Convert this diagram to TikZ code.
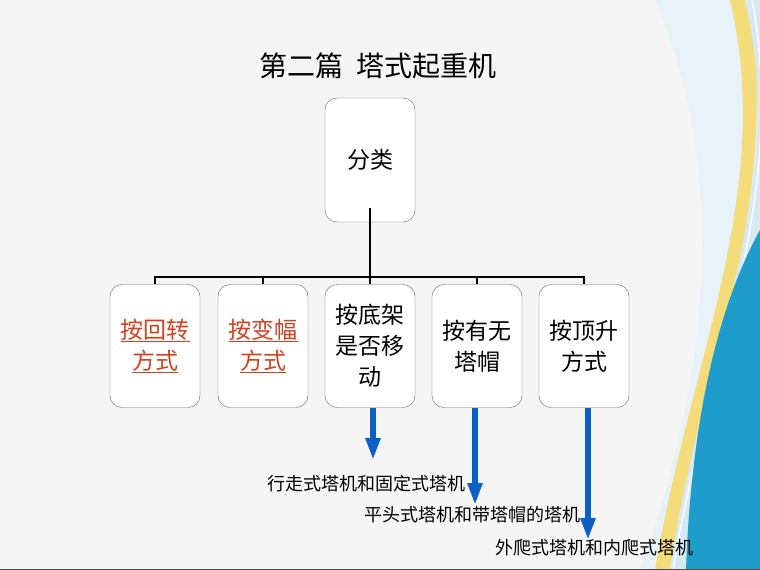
\documentclass[tikz,border=0pt]{standalone}
\usepackage{fontspec}
\setmainfont{Noto Sans CJK SC}
\usetikzlibrary{positioning}
\usetikzlibrary{arrows.meta}
\definecolor{bgray}{HTML}{F5F5F5}
\definecolor{redtxt}{HTML}{D2421E}
\definecolor{arrblue}{HTML}{0B5FC6}
\definecolor{wave}{HTML}{F5DC7A}
\definecolor{lblue}{HTML}{D6E9F5}
\definecolor{teal}{HTML}{1E9CCB}
\tikzset{
  catbox/.style={draw=gray!80!black, rounded corners=12pt, fill=white, minimum width=90pt,
    minimum height=123pt, align=center, font=\fontsize{23}{31}\selectfont, inner sep=2pt},
  topbox/.style={catbox, minimum height=124pt},
  tree/.style={line width=1.6pt},
  downarrow/.style={draw=arrblue, line width=6pt, -{Triangle[width=14pt,length=22pt]}},
  result/.style={font=\fontsize{18}{20}\selectfont, inner sep=1pt}
}
\begin{document}
\begin{tikzpicture}[x=1pt,y=-1pt]
\useasboundingbox (0,0) rectangle (760,570);
\fill[bgray] (0,0) rectangle (760,570);

% background waves
\fill[lblue!60] (655,0) .. controls (720,150) and (720,350) .. (640,570) -- (760,570) -- (760,0) -- cycle;
\fill[wave] (730,0) .. controls (775,190) and (690,360) .. (655,570) -- (672,570)
  .. controls (705,380) and (780,200) .. (750,0) -- cycle;
\fill[lblue] (745,0) .. controls (790,190) and (700,360) .. (670,570) -- (760,570) -- (760,0) -- cycle;
\draw[white, line width=1.5pt] (752,0) .. controls (790,200) and (705,370) .. (673,570);
\fill[teal] (760,230) .. controls (710,320) and (690,450) .. (686,570) -- (760,570) -- cycle;
\draw[black!70, line width=1pt] (0,569.5) -- (760,569.5);

\node[font=\fontsize{28}{32}\selectfont] (title) at (378,66) {第二篇\ \ 塔式起重机};

\node[topbox] (root) at (370,160) {分类};
\node[catbox, text=redtxt] (rot) at (155,346) {\underline{按回转}\\\underline{方式}};
\node[catbox, text=redtxt] (amp) at (263,346) {\underline{按变幅}\\\underline{方式}};
\node[catbox] (base) at (370,346) {按底架\\是否移\\动};
\node[catbox] (hat) at (477,346) {按有无\\塔帽};
\node[catbox] (lift) at (584,346) {按顶升\\方式};

% tree connectors
\draw[tree] (370,208) -- (370,277);
\draw[tree] (rot.north) |- (370,277) -| (lift.north);
\foreach \b in {amp,base,hat}
  \draw[tree] (\b.north) -- ++(0,-8);

% results
\node[result] (r1) at (366,484) {行走式塔机和固定式塔机};
\node[result] (r2) at (472,515) {平头式塔机和带塔帽的塔机};
\node[result] (r3) at (594,548) {外爬式塔机和内爬式塔机};
\coordinate (e1) at (373,460);
\coordinate (e2) at (475,505);
\coordinate (e3) at (588,540);
\draw[downarrow] (base.south -| e1) -- (e1);
\draw[downarrow] (hat.south -| e2) -- (e2);
\draw[downarrow] (lift.south -| e3) -- (e3);
\end{tikzpicture}
\end{document}
